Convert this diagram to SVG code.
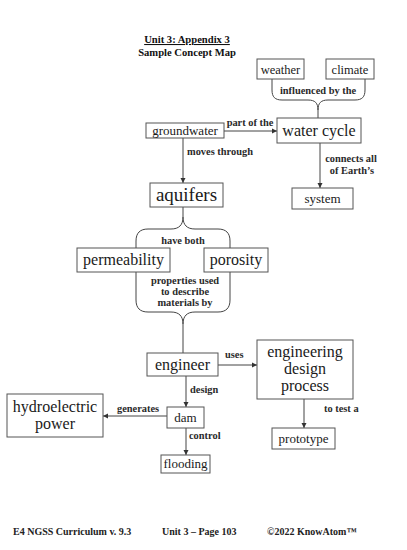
<svg xmlns="http://www.w3.org/2000/svg" width="407" height="550" viewBox="0 0 407 550">
<style>
.bx{fill:#fff;stroke:#555;stroke-width:1}
.nt{font-family:"Liberation Serif",serif;fill:#1a1a1a;text-anchor:middle}
.s{font-size:13px}
.b{font-size:16px}
.lb{font-family:"Liberation Serif",serif;font-weight:bold;font-size:10.4px;fill:#2a2a2a}
.ln{fill:none;stroke:#444;stroke-width:1}
.ti{font-family:"Liberation Serif",serif;font-weight:bold;font-size:10.6px;fill:#111;text-anchor:middle}
.ft{font-family:"Liberation Serif",serif;font-weight:bold;font-size:10px;fill:#222}
</style>
<defs>
<marker id="ah" markerWidth="6" markerHeight="6" refX="5" refY="3" orient="auto" markerUnits="userSpaceOnUse">
<path d="M0,0.5 L5,3 L0,5.5 Z" fill="#333"/>
</marker>
</defs>
<rect width="407" height="550" fill="#fff"/>
<g id="title">
<text class="ti" x="187" y="43" text-decoration="underline">Unit 3: Appendix 3</text>
<text class="ti" x="187" y="56">Sample Concept Map</text>
</g>
<g id="connectors">
<path class="ln" d="M272,79 L272,90 C272,97 275,100 282,100 L308,100 C315,100 318,103 318,110 L318,118 M365,79 L365,90 C365,97 362,100 355,100 L328,100 C321,100 318,103 318,110"/>
<path class="ln" d="M224,131 L277,131" marker-end="url(#ah)"/>
<path class="ln" d="M183,138 L183,183" marker-end="url(#ah)"/>
<path class="ln" d="M320,143 L320,188" marker-end="url(#ah)"/>
<path class="ln" d="M183,207 L183,217 C183,225 179,229 171,229 L148,229 C140,229 136,233 136,241 L136,300 C136,308 140,312 148,312 L171,312 C179,312 183,316 183,324 L183,353 M183,217 C183,225 187,229 195,229 L218,229 C226,229 230,233 230,241 L230,300 C230,308 226,312 218,312 L195,312 C187,312 183,316 183,324"/>
<path class="ln" d="M218,365 L257,365" marker-end="url(#ah)"/>
<path class="ln" d="M186,376 L186,407" marker-end="url(#ah)"/>
<path class="ln" d="M167,416 L103,416" marker-end="url(#ah)"/>
<path class="ln" d="M186,428 L186,455" marker-end="url(#ah)"/>
<path class="ln" d="M304,399 L304,428" marker-end="url(#ah)"/>
<text class="lb" x="318" y="94" text-anchor="middle">influenced by the</text>
<text class="lb" x="250" y="126" text-anchor="middle">part of the</text>
<text class="lb" x="187" y="155">moves through</text>
<text class="lb" x="351" y="162" text-anchor="middle">connects all</text>
<text class="lb" x="352" y="174" text-anchor="middle">of Earth’s</text>
<text class="lb" x="183" y="244" text-anchor="middle">have both</text>
<text class="lb" x="185" y="284" text-anchor="middle">properties used</text>
<text class="lb" x="185" y="295" text-anchor="middle">to describe</text>
<text class="lb" x="185" y="306" text-anchor="middle">materials by</text>
<text class="lb" x="225" y="358">uses</text>
<text class="lb" x="190" y="393">design</text>
<text class="lb" x="138" y="412" text-anchor="middle">generates</text>
<text class="lb" x="189" y="439">control</text>
<text class="lb" x="324" y="412">to test a</text>
</g>
<g id="weather"><rect class="bx" x="257" y="59" width="47" height="20"/><text class="nt" x="280.5" y="74" font-size="12.5">weather</text></g>
<g id="climate"><rect class="bx" x="326" y="59" width="48" height="20"/><text class="nt" x="350" y="74" font-size="12.5">climate</text></g>
<g id="groundwater"><rect class="bx" x="146" y="123" width="78" height="15"/><text class="nt s" x="185" y="134.5">groundwater</text></g>
<g id="water-cycle"><rect class="bx" x="277" y="118" width="84" height="25"/><text class="nt b" x="319" y="136">water cycle</text></g>
<g id="system"><rect class="bx" x="292" y="188" width="61" height="21"/><text class="nt s" x="322.5" y="202.5">system</text></g>
<g id="aquifers"><rect class="bx" x="150" y="183" width="73" height="24"/><text class="nt" x="186.5" y="201" font-size="19">aquifers</text></g>
<g id="permeability"><rect class="bx" x="77" y="248" width="93" height="24"/><text class="nt b" x="123.5" y="265">permeability</text></g>
<g id="porosity"><rect class="bx" x="204" y="248" width="64" height="24"/><text class="nt b" x="236" y="265">porosity</text></g>
<g id="engineer"><rect class="bx" x="147" y="353" width="71" height="23"/><text class="nt b" x="182.5" y="369.5">engineer</text></g>
<g id="engineering-design-process"><rect class="bx" x="257" y="340" width="96" height="59"/><text class="nt b" x="305" y="357">engineering</text><text class="nt b" x="305" y="374">design</text><text class="nt b" x="305" y="391">process</text></g>
<g id="dam"><rect class="bx" x="167" y="407" width="37" height="21"/><text class="nt s" x="185.5" y="421.5">dam</text></g>
<g id="hydroelectric-power"><rect class="bx" x="7" y="394" width="96" height="43"/><text class="nt b" x="55" y="412">hydroelectric</text><text class="nt b" x="55" y="429">power</text></g>
<g id="flooding"><rect class="bx" x="161" y="455" width="49" height="18"/><text class="nt s" x="185.5" y="468">flooding</text></g>
<g id="prototype"><rect class="bx" x="272" y="428" width="63" height="21"/><text class="nt s" x="303.5" y="443">prototype</text></g>
<g id="footer">
<text class="ft" x="13" y="535">E4 NGSS Curriculum v. 9.3</text>
<text class="ft" x="162" y="535">Unit 3 – Page 103</text>
<text class="ft" x="267" y="535">©2022 KnowAtom™</text>
</g>
</svg>
